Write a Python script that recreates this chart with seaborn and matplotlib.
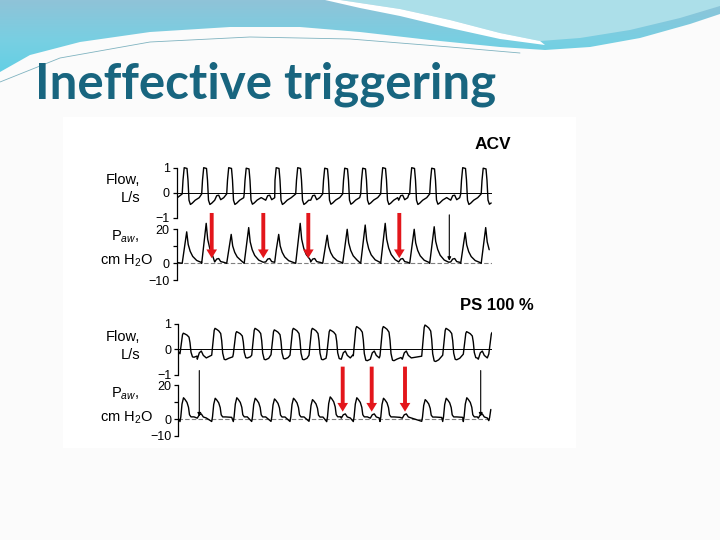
import numpy as np
import pandas as pd
import matplotlib
import matplotlib.pyplot as plt
from matplotlib.patches import Polygon, Rectangle
from matplotlib.colors import LinearSegmentedColormap
import seaborn as sns

# ---- data (time in chart units, left spine = 0) ----
# ACV: breath onsets, flow peak (L/s) and airway pressure peak (cm H2O)
acv_onset = [5.5, 25, 50, 67.5, 97.5, 119, 146, 166, 184, 204, 233, 253, 284, 304.5]
acv_flow_peak = [1.0, 1.0, 1.0, 0.98, 1.0, 1.0, 0.98, 0.98, 0.98, 1.0, 1.0, 0.98, 1.0, 0.98]
acv_paw_peak = [18.5, 23.5, 17, 21, 17, 23.5, 16.5, 20, 22.5, 23.5, 20, 21.5, 18, 21]
acv_effort = [41, 92, 137, 225, 277]
acv_red_arrows = [35, 86.6, 131.6, 222.6]
acv_black_arrows = [272.6]
acv_end = 315

# PS 100 %
ps_onset = [1.7, 33.4, 55, 73.4, 92.7, 111.7, 130.7, 148.4, 175, 201.7, 243.4, 264.4, 285, 310.5]
ps_flow_peak = [0.62, 0.81, 0.68, 0.81, 0.75, 0.81, 0.81, 0.75, 0.88, 0.88, 0.94, 0.81, 0.68, 0.65]
ps_paw_peak = [12.5, 12.2, 12.5, 12.2, 11.8, 12.2, 11.4, 13, 12.5, 12.2, 11.4, 12.2, 12.5, 8]
ps_effort = [22, 166, 195, 227, 303]
ps_red_arrows = [164.4, 193.4, 226.7]
ps_black_arrows = [21, 302.4]
ps_end = 314

# single-breath shapes (offset from onset, fraction of the breath peak)
acv_flow_shape_t = [0, 0.8, 2, 4.8, 5.8, 6.8, 8.2, 10, 13, 17, 22, 28]
acv_flow_shape_v = [-0.05, 0.5, 1.0, 0.97, 0.5, -0.3, -0.47, -0.42, -0.3, -0.2, -0.12, -0.08]
acv_paw_shape_t = [0, 2, 4.5, 6, 8, 10.5, 14.5, 19, 25]
acv_paw_shape_v = [0.0, 0.45, 1.0, 0.6, 0.38, 0.22, 0.09, 0.03, 0.02]
ps_flow_shape_t = [0, 1.2, 2.5, 3.3, 5, 7, 9, 10, 11, 12.5, 14, 17, 21, 26]
ps_flow_shape_v = [-0.3, 0.3, 0.9, 1.0, 0.95, 0.88, 0.75, 0.4, -0.2, -0.5, -0.52, -0.45, -0.38, -0.32]
ps_paw_shape_t = [0, 0.8, 2, 3.5, 5, 7, 8.5, 9.5, 11, 14, 20]
ps_paw_shape_v = [-0.12, 0.1, 0.7, 1.0, 0.92, 0.78, 0.55, 0.2, 0.1, 0.1, 0.08]

# ineffective effort blips (offset from effort, absolute value)
effort_t = [-3, -1, 1, 3, 6]
acv_flow_effort_v = [-0.3, -0.12, -0.1, -0.28, -0.2]
acv_paw_effort_v = [0.8, 2.5, 2.8, 1.0, 0.6]
ps_flow_effort_v = [-0.4, -0.15, -0.08, -0.25, -0.35]
ps_paw_effort_v = [0.5, 2.5, 3.0, 1.2, 0.6]


def build_trace(onsets, peaks, shape_t, shape_v, end, start_v, efforts, eff_v):
    pts = [(0.0, start_v)]
    for i, (t0, pk) in enumerate(zip(onsets, peaks)):
        nxt = onsets[i + 1] if i + 1 < len(onsets) else end
        pts += [(t0 + dt, v * pk) for dt, v in zip(shape_t, shape_v) if t0 + dt < nxt]
    for e in efforts:
        pts = [p for p in pts if not (e + effort_t[0] <= p[0] <= e + effort_t[-1])]
        pts += [(e + dt, v) for dt, v in zip(effort_t, eff_v)]
    pts.sort()
    return pd.DataFrame(pts, columns=['t', 'v'])


acv_flow = build_trace(acv_onset, acv_flow_peak, acv_flow_shape_t, acv_flow_shape_v,
                       acv_end, -0.22, acv_effort, acv_flow_effort_v)
acv_paw = build_trace(acv_onset, acv_paw_peak, acv_paw_shape_t, acv_paw_shape_v,
                      acv_end, 0.5, acv_effort, acv_paw_effort_v)
ps_flow = build_trace(ps_onset, ps_flow_peak, ps_flow_shape_t, ps_flow_shape_v,
                      ps_end, -0.1, ps_effort, ps_flow_effort_v)
ps_paw = build_trace(ps_onset, ps_paw_peak, ps_paw_shape_t, ps_paw_shape_v,
                     ps_end, 0.3, ps_effort, ps_paw_effort_v)

sns.set_theme(style='white')
plt.rcParams['font.family'] = ['Liberation Sans', 'DejaVu Sans']
plt.rcParams['mathtext.fontset'] = 'custom'
plt.rcParams['mathtext.rm'] = 'Liberation Sans'
plt.rcParams['mathtext.it'] = 'Liberation Sans:italic'

W, H = 720, 540
fig = plt.figure(figsize=(7.2, 5.4), dpi=100, facecolor='#fbfbfb')


def px_axes(x0, x1, y_top, y_bot):
    ax = fig.add_axes([x0 / W, 1 - y_bot / H, (x1 - x0) / W, (y_bot - y_top) / H])
    ax.set_facecolor('none')
    return ax


# ---- slide decoration ----
bg = px_axes(0, W, 0, H)
bg.set_xlim(0, W)
bg.set_ylim(H, 0)
bg.axis('off')

sky_edge = [(0, 72), (30, 55), (80, 42), (150, 32), (230, 27), (300, 27), (360, 32), (430, 40),
            (500, 47), (545, 50), (590, 47), (640, 38), (690, 24), (720, 14)]
sky = Polygon([(0, 0), (720, 0)] + sky_edge[::-1], closed=True, fc='none', ec='none')
bg.add_patch(sky)
sky_cmap = LinearSegmentedColormap.from_list('sky', ['#8fc3d8', '#78cfe2', '#5fd0e6'])
im = bg.imshow(np.linspace(0, 1, 80).reshape(-1, 1), extent=(0, 720, 80, 0), cmap=sky_cmap,
               aspect='auto', zorder=1)
im.set_clip_path(sky)

right_edge = [(720, 6), (680, 18), (630, 30), (580, 38), (540, 41), (500, 33), (450, 20),
              (400, 9), (360, 3), (340, 0)]
bg.add_patch(Polygon([(720, 0)] + right_edge, closed=True, fc='#acdfe9', ec='none', zorder=2))
swoosh_low = [(325, 0), (360, 8), (400, 16), (450, 28), (500, 39), (545, 45)]
bg.add_patch(Polygon(right_edge[4:][::-1] + swoosh_low[::-1], closed=True, fc='white',
                     ec='none', zorder=3))
bg.plot([0, 60, 150, 250, 350, 450, 520], [82, 58, 42, 37, 39, 47, 53], color='#7fb3c0',
        lw=0.6, zorder=3)

bg.add_patch(Rectangle((63, 117), 513, 331, fc='white', ec='none', zorder=1))

fig.text(35 / W, 1 - 98.5 / H, 'Ineffective triggering', family=['Lato', 'DejaVu Sans'],
         weight='bold', size=35.5, color='#18657f', va='baseline')

# ---- trace panels ----
panels = [
    dict(x0=176.7, end=acv_end, flow_zero=192.7, paw_zero=263.3, flow_px=25.0,
         flow=acv_flow, paw=acv_paw, red=acv_red_arrows, black=acv_black_arrows,
         red_top=29.6, red_tip=3.0),
    dict(x0=178.3, end=ps_end, flow_zero=349.0, paw_zero=419.0, flow_px=25.5,
         flow=ps_flow, paw=ps_paw, red=ps_red_arrows, black=ps_black_arrows,
         red_top=30.8, red_tip=4.3),
]
paw_px = 1.7
flow_lim, paw_lim = (-1.2, 1.1), (-10, 26)

for i, p in enumerate(panels):
    fpx = p['flow_px']
    ax_f = px_axes(p['x0'], p['x0'] + p['end'], p['flow_zero'] - flow_lim[1] * fpx,
                   p['flow_zero'] - flow_lim[0] * fpx)
    ax_p = px_axes(p['x0'], p['x0'] + p['end'], p['paw_zero'] - paw_lim[1] * paw_px,
                   p['paw_zero'] - paw_lim[0] * paw_px)

    ax_f.axhline(0, color='black', lw=0.7, zorder=1)
    ax_p.axhline(0, color='#808080', lw=0.8, ls=(0, (4, 2)), zorder=1)
    sns.lineplot(data=p['flow'], x='t', y='v', ax=ax_f, color='black', lw=1.0,
                 estimator=None, sort=False)
    sns.lineplot(data=p['paw'], x='t', y='v', ax=ax_p, color='black', lw=1.0,
                 estimator=None, sort=False)

    for ax, lim, ticks, labels, bounds in [
            (ax_f, flow_lim, [-1, 0, 1], ['\u22121', '0', '1'], (-1, 1)),
            (ax_p, paw_lim, [-10, 0, 10, 20], ['\u221210', '0', '', '20'], (-10, 20))]:
        ax.set_xlim(0, p['end'])
        ax.set_ylim(*lim)
        ax.set(xlabel='', ylabel='', xticks=[])
        ax.set_yticks(ticks)
        ax.set_yticklabels(labels)
        for s in ['top', 'right', 'bottom']:
            ax.spines[s].set_visible(False)
        ax.spines['left'].set_bounds(*bounds)
        ax.spines['left'].set_linewidth(0.9)
        ax.spines['left'].set_color('black')
        ax.tick_params(axis='y', left=True, direction='out', length=3, width=0.9,
                       labelsize=9, pad=2, colors='black')

    for t in p['red']:
        ax_p.annotate('', xy=(t, p['red_tip']), xytext=(t, p['red_top']), annotation_clip=False,
                      arrowprops=dict(arrowstyle='simple,head_length=0.45,head_width=0.55,tail_width=0.2',
                                      fc='#e3161b', ec='none', mutation_scale=14,
                                      shrinkA=0, shrinkB=0), zorder=5)
    for t in p['black']:
        ax_p.annotate('', xy=(t, 1.5), xytext=(t, 28.5), annotation_clip=False,
                      arrowprops=dict(arrowstyle='-|>', color='black', lw=0.8,
                                      mutation_scale=5, shrinkA=0, shrinkB=0), zorder=5)

    dy = 0 if i == 0 else 157
    fig.text(140 / W, 1 - (189 + dy) / H, 'Flow,\nL/s', ha='right', va='center',
             multialignment='right', linespacing=1.45, size=10.5, color='black')
    fig.text(125 / W, 1 - (237 + dy) / H, 'P$_{aw}$,', ha='center', va='center',
             size=10.5, color='black')
    fig.text(127 / W, 1 - (261 + dy) / H, 'cm H$_2$O', ha='center', va='center',
             size=10.5, color='black')

fig.text(475 / W, 1 - 149.3 / H, 'ACV', weight='bold', size=12.5, va='baseline', color='black')
fig.text(460 / W, 1 - 310.5 / H, 'PS 100 %', weight='bold', size=12, va='baseline',
         color='black')

fig.savefig('out.png', dpi=100, facecolor=fig.get_facecolor())
